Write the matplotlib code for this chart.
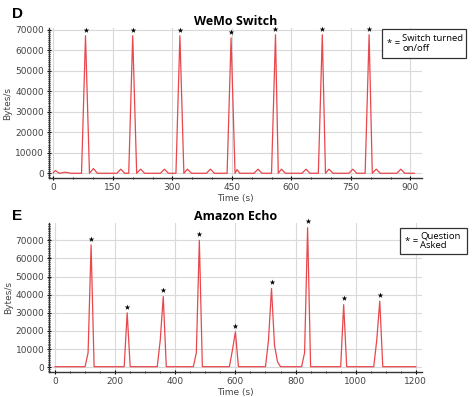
import matplotlib
matplotlib.use('Agg')
import matplotlib.pyplot as plt
from matplotlib.ticker import MultipleLocator
from matplotlib.patches import Rectangle

# ---- panel D: WeMo switch ----
wemo_t = [0, 5, 15, 30, 45, 71, 81, 91, 101, 111, 160, 170, 180, 190, 200, 210, 220, 230,
          270, 280, 290, 309, 319, 329, 338, 348, 386, 396, 406, 438, 448, 458, 463, 470,
          506, 516, 526, 550, 560, 567, 575, 585, 627, 637, 647, 668, 678, 686, 695, 705,
          745, 755, 765, 786, 796, 804, 814, 824, 866, 876, 886, 910]
wemo_v = [300, 1300, 0, 500, 0, 0, 67000, 0, 2300, 0, 0, 2000, 0, 0, 67000, 0, 2000, 0,
          0, 2000, 0, 0, 67000, 0, 2000, 0, 0, 2000, 0, 0, 66000, 0, 1800, 0,
          0, 2000, 0, 0, 67500, 0, 2000, 0, 0, 2000, 0, 0, 67500, 0, 2000, 0,
          0, 2000, 0, 0, 67500, 0, 2000, 0, 0, 2000, 0, 0]
wemo_events = [81, 200, 319, 448, 560, 678, 796]
wemo_peaks = [67000, 67000, 67000, 66000, 67500, 67500, 67500]

# ---- panel E: Amazon Echo ----
echo_t = [0, 100, 110, 120, 130, 230, 240, 250, 340, 350, 360, 370, 460, 470, 480, 490,
          580, 590, 600, 610, 700, 710, 720, 730, 740, 750, 820, 830, 840, 850,
          950, 960, 970, 1060, 1070, 1080, 1090, 1200]
echo_v = [300, 300, 8000, 67500, 300, 300, 30000, 300, 300, 15000, 39000, 300, 300, 8000, 70000, 300,
          300, 9500, 19500, 300, 300, 15000, 43500, 12000, 3000, 300, 300, 8000, 77000, 300,
          300, 34500, 300, 300, 15000, 36500, 300, 300]
echo_events = [120, 240, 360, 480, 600, 720, 840, 960, 1080]
echo_peaks = [67500, 30000, 39000, 70000, 19500, 43500, 77000, 34500, 36500]

line_color = '#e8474c'
grid_color = '#d9d9d9'
tick_color = '#444444'
W, H = 474, 397


def style_axes(ax, xmajor, xminor, ymajor, yminor):
    ax.xaxis.set_major_locator(MultipleLocator(xmajor))
    ax.xaxis.set_minor_locator(MultipleLocator(xminor))
    ax.yaxis.set_major_locator(MultipleLocator(ymajor))
    ax.yaxis.set_minor_locator(MultipleLocator(yminor))
    ax.grid(True, which='major', color=grid_color, linewidth=0.8)
    ax.set_axisbelow(True)
    for side in ('top', 'right'):
        ax.spines[side].set_visible(False)
    for side in ('left', 'bottom'):
        ax.spines[side].set_color('#333333')
        ax.spines[side].set_linewidth(1.0)
    ax.tick_params(axis='both', which='major', labelsize=6.5, labelcolor=tick_color,
                   length=3, width=0.8, direction='inout', pad=2)
    ax.tick_params(axis='both', which='minor', length=2, width=0.6, direction='inout')
    ax.set_ylabel('Bytes/s', fontsize=6.5, color=tick_color, labelpad=2)
    ax.set_xlabel('Time (s)', fontsize=6.5, color=tick_color, labelpad=1)


def key_box(x0, y0, x1, y1, label):
    # box given in pixel coords from the top-left corner
    fig.patches.append(Rectangle((x0 / W, 1 - y1 / H), (x1 - x0) / W, (y1 - y0) / H,
                                 transform=fig.transFigure, facecolor='white',
                                 edgecolor='#333333', linewidth=0.9))
    ym = 1 - (y0 + y1) / 2 / H
    fig.text((x0 + 5) / W, ym, '* =', fontsize=6.8, family='Open Sans', va='center')
    fig.text((x0 + 20.5) / W, ym, label, fontsize=6.8, family='Open Sans', va='center',
             linespacing=1.1)


fig = plt.figure(figsize=(4.74, 3.97), dpi=100)

# top panel
ax1 = fig.add_axes([0.1034, 0.551, 0.7866, 0.3777])
ax1.plot(wemo_t, wemo_v, color=line_color, linewidth=0.9)
ax1.scatter(wemo_events, [p + 3000 for p in wemo_peaks], marker='*', s=18, color='black',
            zorder=3, linewidths=0, clip_on=False)
ax1.set_xlim(-11, 929)
ax1.set_ylim(-2430, 70600)
style_axes(ax1, 150, 50, 10000, 1000)
ax1.set_title('WeMo Switch', fontsize=9, fontweight='bold', family='Open Sans', pad=1)
fig.text(0.025, 0.965, 'D', fontsize=11, fontweight='bold', family='Liberation Sans',
         va='center')
key_box(382, 29, 466, 58, 'Switch turned\non/off')

# bottom panel
ax2 = fig.add_axes([0.104, 0.0622, 0.786, 0.3753])
ax2.plot(echo_t, echo_v, color=line_color, linewidth=0.9)
ax2.scatter(echo_events, [p + 3500 for p in echo_peaks], marker='*', s=18, color='black',
            zorder=3, linewidths=0, clip_on=False)
ax2.set_xlim(-19, 1220)
ax2.set_ylim(-2800, 79400)
style_axes(ax2, 200, 50, 10000, 1000)
ax2.set_title('Amazon Echo', fontsize=9, fontweight='bold', family='Open Sans', pad=1)
fig.text(0.025, 0.455, 'E', fontsize=11, fontweight='bold', family='Liberation Sans',
         va='center')
key_box(400, 228, 467, 254, 'Question\nAsked')

fig.savefig('out.png', dpi=100)
